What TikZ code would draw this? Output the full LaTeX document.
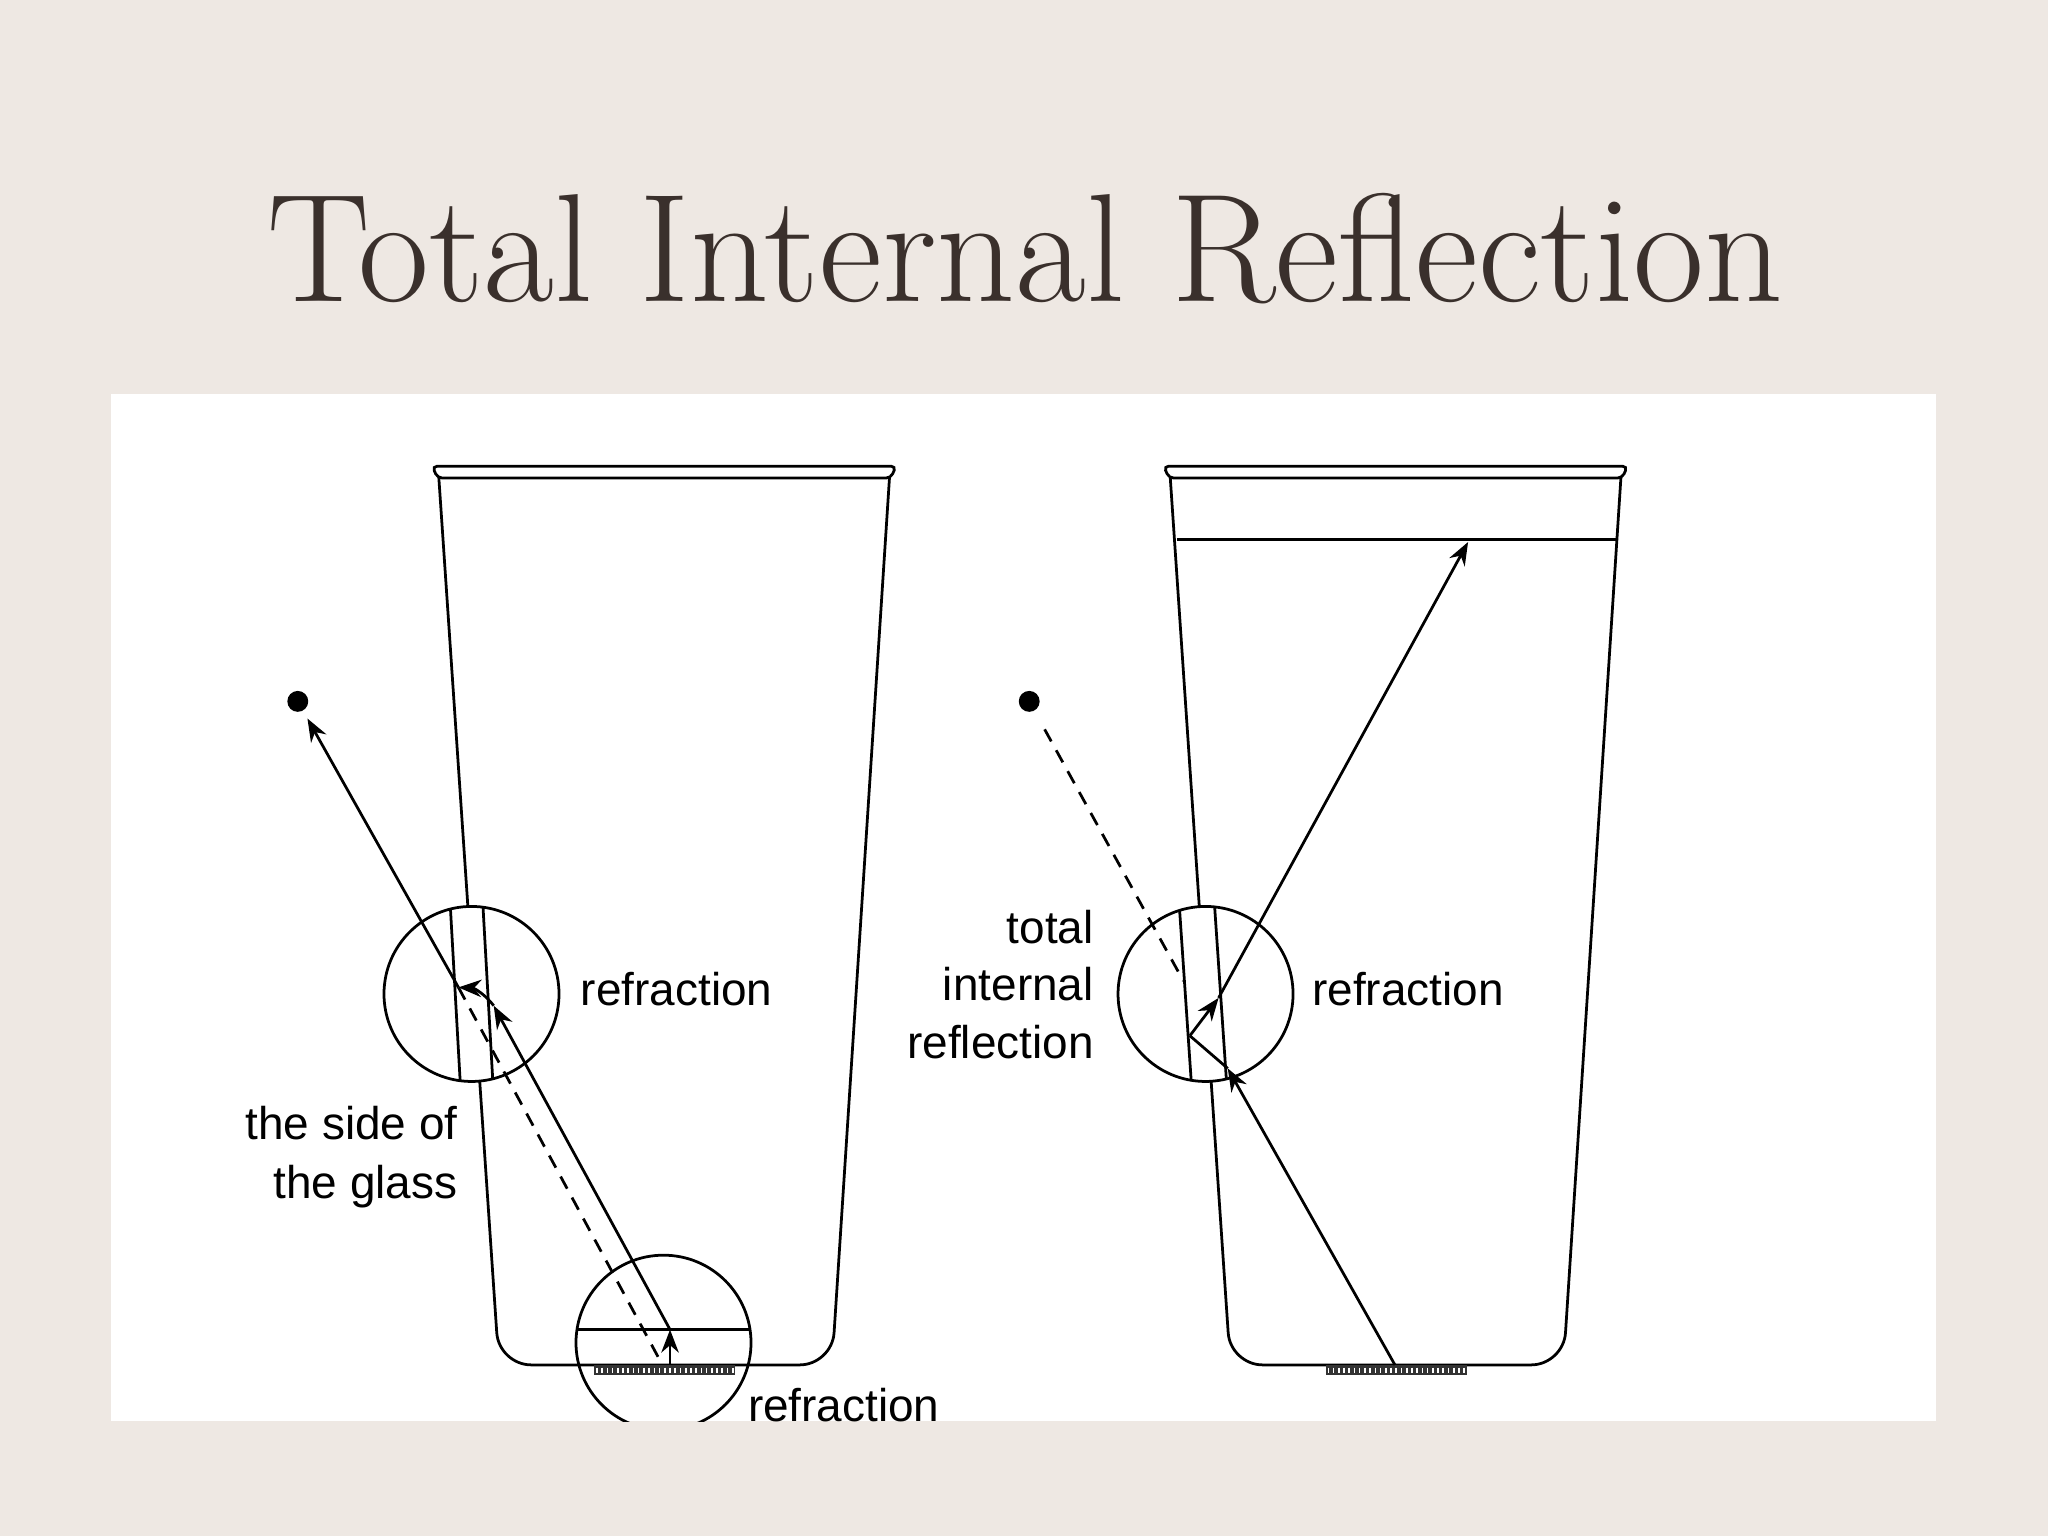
\documentclass[tikz,border=0pt]{standalone}
\usepackage{fontspec}
\newfontfamily\lab{Liberation Sans}
\usetikzlibrary{arrows.meta,calc}
\definecolor{bg}{HTML}{EEE8E3}
\definecolor{ttl}{HTML}{3A302C}
\tikzset{
  ln/.style={line width=0.6pt,black},
  lbl/.style={font=\lab\fontsize{10}{13}\selectfont,inner sep=0pt},
  tip/.style={-{Stealth[length=5pt,width=3.8pt]}},
  dsh/.style={ln,dash pattern=on 3pt off 2.2pt}
}
\begin{document}
\begin{tikzpicture}[x=0.01cm,y=-0.01cm]
\fill[bg] (0,0) rectangle (1568,1176);
\useasboundingbox (0,0) rectangle (1568,1176);
\node[text=ttl,inner sep=0pt] (title) at (785,190) {\resizebox{11.6cm}{!}{\fontsize{28}{30}\selectfont Total Internal Reflection}};
\fill[white] (85,302) rectangle (1482,1088);
\begin{scope}
\clip (85,302) rectangle (1482,1088);
% ---------- glasses ----------
\foreach \dx in {0,560}{
  \begin{scope}[xshift=\dx*0.01cm]
    \draw[ln,rounded corners=1pt] (335,366) -- (331,357) -- (686,357) -- (682,366) -- cycle;
    \draw[ln,rounded corners=7pt] (336,366) -- (382,1045) -- (637,1045) -- (681,366);
    \fill[gray!40!black] (455,1045) rectangle (563,1053);
    \foreach \k in {0,...,26}{\draw[white,line width=0.35pt] (457+4*\k,1047) -- (457+4*\k,1051);}
  \end{scope}
}
% water line right glass
\draw[ln] (901,413) -- (1238,413);
% ---------- left glass ----------
\fill[white] (361,761) circle (67);
\begin{scope}
  \clip (361,761) circle (67);
  \draw[ln] (344,680) -- (353,840);
  \draw[ln] (369,680) -- (378,840);
\end{scope}
\draw[ln] (361,761) coordinate (cL) circle (67);
\coordinate (dotL) at (228,537);
\coordinate (wL) at (351,756);
\coordinate (wR) at (378,770);
\coordinate (bsrc) at (513,1018);
\fill (dotL) circle (8);
\draw[ln,tip] (wL) -- ($(dotL)!0.06!(wL)$);
\draw[ln,tip] (bsrc) -- (wR);
\draw[ln,tip] (wR) to[bend right=25] (wL);
\draw[dsh] (wL) -- (505,1041);
% bottom circle
\draw[ln] (508,1028) circle (67);
\begin{scope}
  \clip (508,1028) circle (67);
  \draw[ln] (430,1018) -- (590,1018);
\end{scope}
\draw[ln,tip] (513,1044) -- (bsrc);
\node[lbl,anchor=base west] (lr3) at (572,1088) {refraction};
% ---------- right glass ----------
\fill[white] (923,761) circle (67);
\begin{scope}
  \clip (923,761) circle (67);
  \draw[ln] (902,680) -- (913,842);
  \draw[ln] (929,680) -- (940,842);
\end{scope}
\draw[ln] (923,761) circle (67);
\coordinate (dotR) at (788,537);
\coordinate (B) at (1068,1045);
\coordinate (P1) at (940,818);
\coordinate (Rf) at (911,793);
\coordinate (P2) at (933,764);
\coordinate (T) at (1124,415);
\fill (dotR) circle (8);
\draw[dsh] ($(dotR)!0.1!(906,751)$) -- (906,751);
\draw[ln,tip] (B) -- (P1);
\draw[ln] (P1) -- (Rf);
\draw[ln,tip] (Rf) -- (P2);
\draw[ln,tip] (P2) -- (T);
\end{scope}
% ---------- labels ----------
\node[lbl,anchor=base west] (lr1) at (444,770) {refraction};
\node[lbl,anchor=base west] (lr2) at (1004,770) {refraction};
\node[lbl,anchor=north east,align=right] (side) at (351,846) {the side of\\the glass};
\node[lbl,anchor=north east,align=right,font=\lab\fontsize{10}{12.5}\selectfont] (tir) at (838,696) {total\\internal\\reflection};
\end{tikzpicture}
\end{document}
